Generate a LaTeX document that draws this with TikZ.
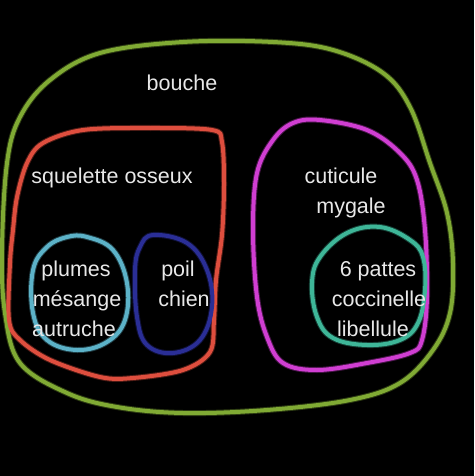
\documentclass[tikz,border=0pt]{standalone}
\usepackage{fontspec}
\setmainfont{Liberation Sans}
\definecolor{cgreen}{RGB}{128,170,52}
\definecolor{cred}{RGB}{222,78,62}
\definecolor{ccyan}{RGB}{92,178,200}
\definecolor{cnavy}{RGB}{42,46,150}
\definecolor{cmag}{RGB}{208,62,210}
\definecolor{cteal}{RGB}{62,182,152}
\definecolor{ctext}{RGB}{232,232,232}
\begin{document}
\begin{tikzpicture}[x=1pt,y=-1pt,
  lbl/.style={text=ctext,font=\fontsize{21.5}{29}\selectfont,anchor=base,inner sep=0pt},
  loop/.style={line width=4pt,line join=round,line cap=round},
  halo/.style={line width=6pt,opacity=0.35,line join=round}]
\fill[black] (0,0) rectangle (474,476);
\useasboundingbox (0,0) rectangle (474,476);
% green outer loop
\foreach \s in {halo,loop}{
\draw[\s,draw=cgreen] plot[smooth cycle,tension=0.6] coordinates {
 (273,42) (333,50) (383,73) (410,107) (430,163) (447,213) (453,263) (450,313)
 (433,350) (400,383) (350,400) (267,410) (183,413) (117,407) (67,393) (20,363)
 (5,313) (2,250) (7,163) (20,117) (50,80) (100,53) (183,42)};
% red loop
\draw[\s,draw=cred] plot[smooth cycle,tension=0.55] coordinates {
 (150,128) (212,130) (222,142) (224,185) (222,235) (216,280) (214,320) (210,352)
 (183,370) (133,378) (100,377) (50,360) (20,340) (9,320) (10,263) (13,230)
 (17,197) (27,163) (43,143) (83,130)};
% cyan
\draw[\s,draw=ccyan] plot[smooth cycle,tension=0.65] coordinates {
 (87,237) (113,250) (127,283) (125,320) (107,342) (77,350) (47,340) (33,313)
 (33,270) (47,247) (67,237)};
% navy
\draw[\s,draw=cnavy] plot[smooth cycle,tension=0.65] coordinates {
 (153,235) (187,243) (207,270) (212,307) (200,340) (173,353) (147,345) (137,317)
 (135,270) (140,247)};
% magenta
\draw[\s,draw=cmag] plot[smooth cycle,tension=0.6] coordinates {
 (320,120) (367,130) (400,153) (417,180) (425,230) (427,297) (422,340) (410,353)
 (367,363) (317,370) (283,363) (267,337) (257,297) (253,230) (257,173) (273,140)
 (293,123)};
% teal
\draw[\s,draw=cteal] plot[smooth cycle,tension=0.65] coordinates {
 (380,227) (410,240) (423,257) (425,290) (418,323) (400,340) (367,345) (333,338)
 (317,317) (312,283) (320,257) (347,233)};
}
% labels
\node[lbl] (bouche) at (182,91) {bouche};
\node[lbl] (sq) at (112,183) {squelette osseux};
\node[lbl] (cut) at (341,183) {cuticule};
\node[lbl] (myg) at (351,213) {mygale};
\node[lbl] (plu) at (76,276) {plumes};
\node[lbl] (mes) at (77,306) {mésange};
\node[lbl] (aut) at (74,336) {autruche};
\node[lbl] (poil) at (178,276) {poil};
\node[lbl] (chien) at (184,306) {chien};
\node[lbl] (six) at (378,276) {6 pattes};
\node[lbl] (coc) at (379,306) {coccinelle};
\node[lbl] (lib) at (373,336) {libellule};
\end{tikzpicture}
\end{document}
